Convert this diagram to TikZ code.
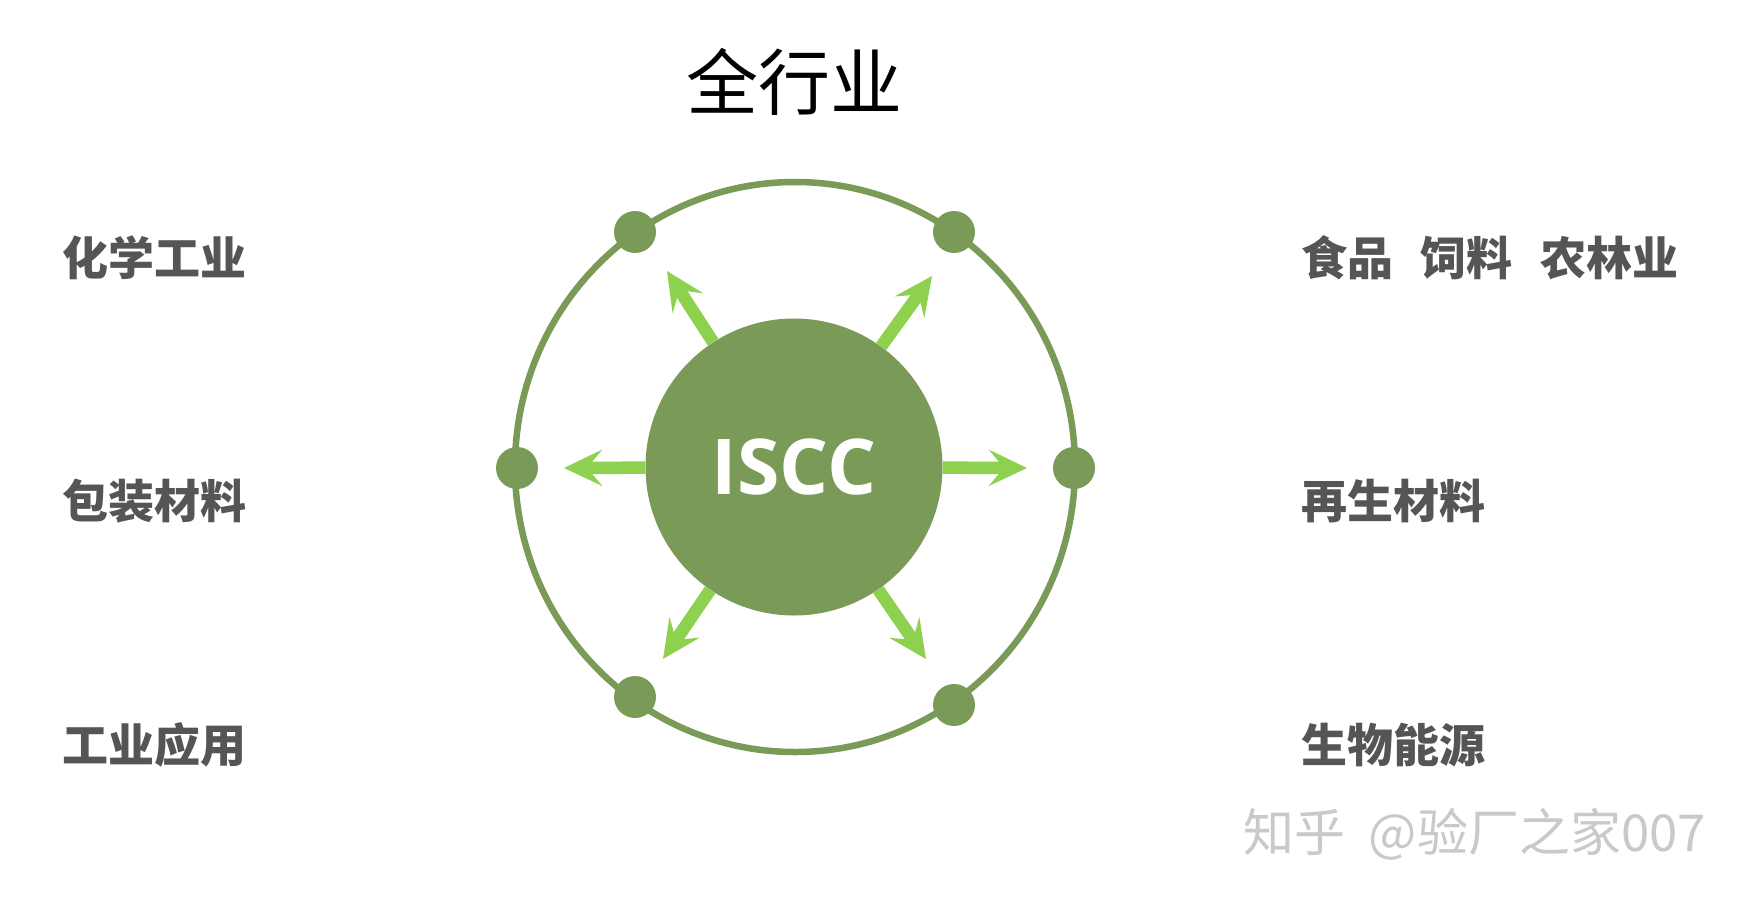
\documentclass[tikz,border=0pt]{standalone}
\usepackage{fontspec}
\newfontfamily\cjk{Noto Sans CJK SC}
\newfontfamily\isccfont{Open Sans}
\usetikzlibrary{arrows.meta}
\definecolor{dkgreen}{HTML}{7A9B57}
\definecolor{ltgreen}{HTML}{8DD14F}
\definecolor{lbl}{HTML}{555555}
\definecolor{wm}{HTML}{C9C9C9}
\begin{document}
\begin{tikzpicture}[x=1pt,y=-1pt,
  hub/.style={circle,fill=dkgreen,minimum size=297pt,inner sep=0pt,text=white,
    font=\isccfont\bfseries\fontsize{77}{77}\selectfont},
  dot/.style={circle,fill=dkgreen,minimum size=42pt,inner sep=0pt},
  ring/.style={draw=dkgreen,line width=6.5pt},
  ray/.style={draw=ltgreen,line width=12.5pt,-{Stealth[length=38pt,width=36pt,inset=15pt]}},
  lab/.style={anchor=west,inner sep=0pt,text=lbl,font=\cjk\bfseries\fontsize{46}{46}\selectfont},
]
\useasboundingbox (0,0) rectangle (1751,905);
\fill[white] (0,0) rectangle (1751,905);

% title
\node[inner sep=0pt,font=\cjk\fontsize{72}{72}\selectfont] (title) at (794,82) {全行业};

% outer ring
\draw[ring] (795,467) ellipse [x radius=280pt, y radius=285pt];

% dots on ring
\node[dot] (d1) at (635,232) {};
\node[dot] (d2) at (954,232) {};
\node[dot] (d3) at (517,468) {};
\node[dot] (d4) at (1074,468) {};
\node[dot] (d5) at (635,697) {};
\node[dot] (d6) at (954,705) {};

% hub
\node[hub] (hub) at (794,467) {ISCC};

% arrow tips
\coordinate (tUL) at (667,271);
\coordinate (tUR) at (932,276);
\coordinate (tL) at (564,468);
\coordinate (tR) at (1027,468);
\coordinate (tLL) at (663,659);
\coordinate (tLR) at (926,659);
\foreach \t in {tUL,tUR,tL,tR,tLL,tLR}{\draw[ray] (hub) -- (\t);}

% labels
\node[lab] (l1) at (62,258) {化学工业};
\node[lab] (l2) at (62,501) {包装材料};
\node[lab] (l3) at (62,745) {工业应用};
\node[lab] (r1) at (1301,258) {食品\hspace{0.6em}饲料\hspace{0.6em}农林业};
\node[lab] (r2) at (1301,501) {再生材料};
\node[lab] (r3) at (1301,745) {生物能源};

% watermark
\node[inner sep=0pt,text=wm,font=\cjk\fontsize{51}{51}\selectfont] (wm) at (1475,834) {知乎\hspace{0.45em}@验厂之家007};
\end{tikzpicture}
\end{document}
